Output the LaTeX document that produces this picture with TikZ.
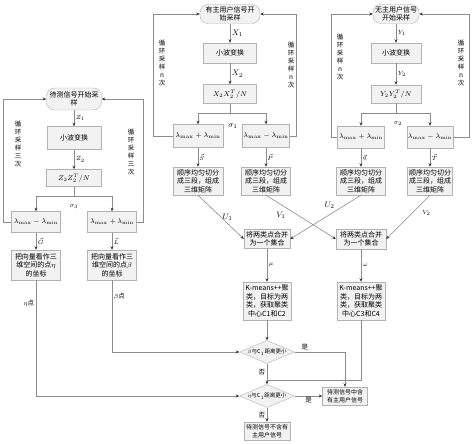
\documentclass[tikz,border=0pt]{standalone}
\usepackage{fontspec}
\newfontfamily\cjk{Noto Sans CJK SC}
\usetikzlibrary{shapes.geometric,arrows.meta}

\tikzset{
  box/.style={draw=black!30, fill=black!5, align=center, inner sep=1pt,
    font=\cjk\fontsize{7}{8.5}\selectfont},
  startbox/.style={box, rounded corners=8pt},
  sz/.style 2 args={minimum width=#1pt, minimum height=#2pt},
  big/.style={font=\cjk\fontsize{7.5}{9}\selectfont},
  small/.style={font=\cjk\fontsize{6}{7.5}\selectfont},
  decision/.style={diamond, draw=black!30, fill=black!5, inner sep=0pt,
    minimum width=55pt, minimum height=23pt, font=\cjk\fontsize{5.5}{6}\selectfont},
  link/.style={draw=black!45, line width=0.6pt},
  flow/.style={link, -{Stealth[length=3.5pt,width=3pt,color=black!80]}},
  lbl/.style={font=\cjk\fontsize{6.5}{8}\selectfont, inner sep=1.5pt},
  biglbl/.style={lbl, font=\cjk\fontsize{8.5}{9}\selectfont},
  vtext/.style={lbl, align=center},
}

\begin{document}
\begin{tikzpicture}[x=1pt,y=-1pt]
    \path[use as bounding box] (0,0) rectangle (474,444);

    % Unknown signal
    \node[startbox, sz={55}{22}] (s0) at (74,99) {待测信号开始采\\样};
    \node[box, sz={54}{23}] (w0) at (74,138) {小波变换};
    \node[box, sz={55}{17}] (c0) at (74,178) {$Z_2Z_2^T/N$};
    \node[box, sz={49}{21}] (a0) at (36,222) {$\lambda_{\max}-\lambda_{\min}$};
    \node[box, sz={49}{21}] (b0) at (112,222) {$\lambda_{\max}+\lambda_{\min}$};
    \node[box, sz={49}{30}] (g0) at (36,265) {把向量看作三\\维空间的点$\eta$\\的坐标};
    \node[box, sz={49}{30}] (h0) at (112,265) {把向量看作三\\维空间的点$\beta$\\的坐标};
    \node[lbl] (sig3) at (74,207) {$\sigma_3$};

    % Primary user present
    \node[startbox, sz={60}{19}] (s1) at (230,14) {有主用户信号开\\始采样};
    \node[box, sz={53}{20}] (w1) at (230,53) {小波变换};
    \node[box, big, sz={53}{19}] (c1) at (230,94) {$X_2X_2^T/N$};
    \node[box, big, sz={50}{23}] (a1) at (198,136) {$\lambda_{\max}+\lambda_{\min}$};
    \node[box, big, sz={46}{23}] (b1) at (266,136) {$\lambda_{\max}-\lambda_{\min}$};
    \node[box, sz={50}{28}] (d1) at (198,181) {顺序均匀切分\\成三段，组成\\三维矩阵};
    \node[box, sz={49}{28}] (e1) at (266,181) {顺序均匀切分\\成三段，组成\\三维矩阵};
    \node[biglbl] (sig1) at (233,126) {$\sigma_1$};

    % Primary user absent
    \node[startbox, sz={46}{19}] (s2) at (396,14) {无主用户信号\\开始采样};
    \node[box, sz={50}{20}] (w2) at (396,53) {小波变换};
    \node[box, sz={50}{18}] (c2) at (396,94) {$Y_2Y_2^T/N$};
    \node[box, sz={47}{22}] (a2) at (361,137) {$\lambda_{\max}+\lambda_{\min}$};
    \node[box, sz={46}{22}] (b2) at (430,137) {$\lambda_{\max}-\lambda_{\min}$};
    \node[box, sz={49}{28}] (d2) at (361,181) {顺序均匀切分\\成三段，组成\\三维矩阵};
    \node[box, sz={45}{28}] (e2) at (430,181) {顺序均匀切分\\成三段，组成\\三维矩阵};
    \node[lbl] (sig2) at (398,124) {$\sigma_2$};

    % Loop labels
    \foreach \x/\y/\t [count=\i] in {18/144/三, 131/152/三, 162/63/n,
                                      291/65/n, 340/57/n, 461/63/n}
      \node[vtext] (cyc\i) at (\x,\y) {循\\环\\采\\样\\\t\\次};

    % Merge and clustering
    \node[box, sz={46}{19}] (m1) at (267,239) {将两类点合并\\为一个集合};
    \node[box, sz={50}{20}] (m2) at (361,239) {将两类点合并\\为一个集合};
    \node[box, sz={48}{38}] (k1) at (267,301) {K-means++聚\\类，目标为两\\类，获取聚类\\中心C1和C2};
    \node[box, sz={48}{38}] (k2) at (361,301) {K-means++聚\\类，目标为两\\类，获取聚类\\中心C3和C4};

    % Decisions
    \node[decision] (q1) at (267,352) {\makebox[0pt]{$\beta$与C$_1$距离更小}};
    \node[decision] (q2) at (267,396) {\makebox[0pt]{$\eta$与C$_1$距离更小}};
    \node[box, small, sz={45}{18}] (yes) at (345,396) {待测信号中含\\有主用户信号};
    \node[box, small, sz={46}{18}] (no) at (267,431) {待测信号不含有\\主用户信号};
    \coordinate (j) at (267,380);

    % Connectors, left
    \coordinate (f0) at (74,196);
    \draw[flow] (s0) -- node[right,lbl]{$Z_1$} (w0);
    \draw[flow] (w0) -- node[right,lbl]{$Z_2$} (c0);
    \draw[link] (c0) -- (f0);
    \draw[flow] (f0) -| (a0);
    \draw[flow] (f0) -| (b0);
    \draw[flow] (a0.west) -- ++(-8.5,0) |- (s0.west);
    \draw[flow] (b0.east) -- ++(6.5,0) |- (s0.east);
    \draw[flow] (a0) -- node[right,lbl]{$\vec{G}$} (g0);
    \draw[flow] (b0) -- node[right,lbl]{$\vec{L}$} (h0);
    \draw[flow] (g0) |- node[pos=0.1,left,lbl]{$\eta$点} (q2.west);
    \draw[flow] (h0) |- node[pos=0.11,right,lbl]{$\beta$点} (q1.west);

    % Connectors, middle
    \coordinate (f1) at (230,113);
    \draw[flow] (s1) -- node[right,biglbl]{$X_1$} (w1);
    \draw[flow] (w1) -- node[right,biglbl]{$X_2$} (c1);
    \draw[link] (c1) -- (f1);
    \draw[flow] (f1) -| (a1);
    \draw[flow] (f1) -| (b1);
    \draw[flow] (a1.west) -- ++(-20,0) |- (s1.west);
    \draw[flow] (b1.east) -- ++(6,0) |- (s1.east);
    \draw[flow] (a1) -- node[right,lbl,inner sep=1pt]{$\vec{S}$} (d1);
    \draw[flow] (b1) -- node[right,lbl,inner sep=1pt]{$\vec{P}$} (e1);

    % Connectors, right
    \coordinate (f2) at (396,113);
    \draw[flow] (s2) -- node[right,lbl]{$Y_1$} (w2);
    \draw[flow] (w2) -- node[right,lbl]{$Y_2$} (c2);
    \draw[link] (c2) -- (f2);
    \draw[flow] (f2) -| (a2);
    \draw[flow] (f2) -| (b2);
    \draw[flow] (a2.west) -- ++(-6.5,0) |- (s2.west);
    \draw[flow] (b2.east) -- ++(16,0) |- (s2.east);
    \draw[flow] (a2) -- node[right,lbl]{$\vec{q}$} (d2);
    \draw[flow] (b2) -- node[right,lbl]{$\vec{T}$} (e2);

    % Crossing
    \draw[flow] (d1.south) -- node[midway,right,biglbl]{$U_1$} (m1.west);
    \draw[flow] (e1.south) -- node[pos=0.45,left=10pt,biglbl]{$V_1$} (m2.west);
    \draw[flow] (d2.south) -- node[pos=0.35,above left,biglbl]{$U_2$} (m1.east);
    \draw[flow] (e2.south) -- node[pos=0.4,right=8pt,lbl]{$V_2$} (m2.east);
    \draw[flow] (m1) -- node[right,lbl]{$\mu$} (k1);
    \draw[flow] (m2) -- node[right,lbl]{$\omega$} (k2);

    % Bottom
    \draw[flow] (k1) -- (q1);
    \draw[link] (q1) -- node[left,lbl]{否} (j);
    \draw[link] (k2) |- (j);
    \draw[flow] (j) -- (q2);
    \draw[flow] (q1.east) -| node[pos=0.1,above,lbl]{是} (yes);
    \draw[flow] (q2) -- node[below,lbl]{是} (yes);
    \draw[flow] (q2) -- node[left,lbl]{否} (no);
\end{tikzpicture}
\end{document}
